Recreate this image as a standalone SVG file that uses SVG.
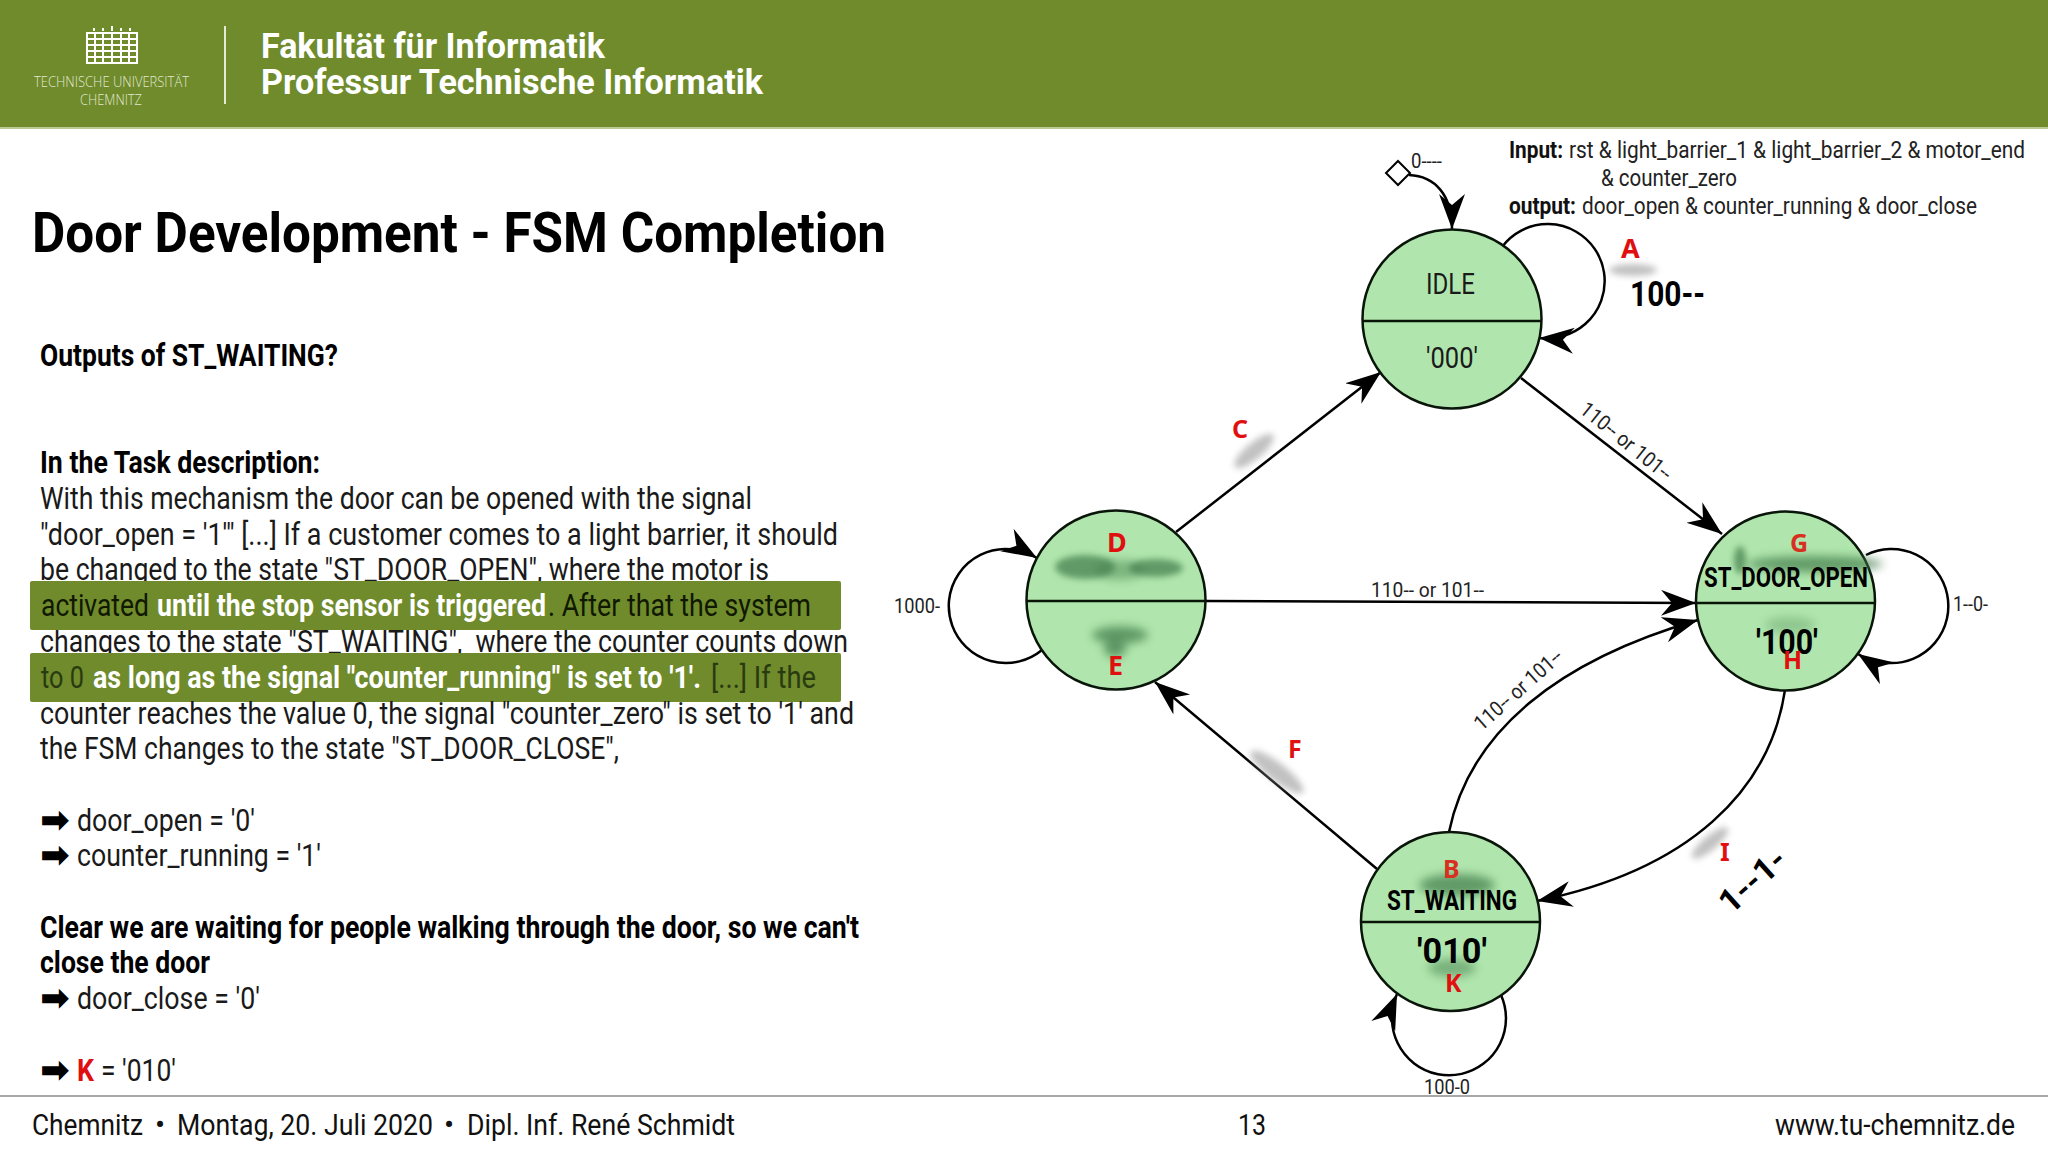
<svg xmlns="http://www.w3.org/2000/svg" width="2048" height="1152" viewBox="0 0 2048 1152">
<style>
text{font-family:Roboto,"Liberation Sans",sans-serif;fill:#1a1a1a;white-space:pre}
.b{font-weight:700;fill:#000}
.body{font-size:31px}
.hd{font-size:35px;font-weight:700;fill:#fff}
.lab{font-size:21px;fill:#222}
.top{font-size:24px;fill:#222}
.r{font-size:25px;font-weight:700;fill:#e01010;font-family:"Noto Sans",sans-serif}
.st{font-size:27px;font-weight:700;fill:#000}
.val{font-size:35px;font-weight:700;fill:#000}
.foot{font-size:30px;fill:#111}
.arw{font-size:33px;fill:#000;stroke:#000;stroke-width:1.5;font-family:"DejaVu Sans",sans-serif}
.state{fill:#b0e6ad;stroke:#0a150a;stroke-width:2.5}
.div{stroke:#0a150a;stroke-width:2.5}
.edge{fill:none;stroke:#000;stroke-width:2.5;marker-end:url(#ah)}
.smg{fill:#3f7a4a;opacity:.7}
.smk{fill:#a8a8a8;opacity:.7}
</style>
<defs>
<marker id="ah" markerUnits="userSpaceOnUse" markerWidth="40" markerHeight="28" refX="35" refY="13" orient="auto">
<path d="M35 13 L0 0 L11 13 L0 26 Z" fill="#000"/>
</marker>
<filter id="b3" x="-50%" y="-100%" width="200%" height="300%"><feGaussianBlur stdDeviation="3"/></filter>
<filter id="b5" x="-50%" y="-100%" width="200%" height="300%"><feGaussianBlur stdDeviation="5"/></filter>
</defs>
<rect width="2048" height="1152" fill="#fff"/>
<g id="header">
<rect width="2048" height="128" fill="#6f8b2c"/>
<rect y="127" width="2048" height="2" fill="#bccb96"/>
<g fill="none" stroke="#fff" stroke-width="2">
<rect x="87" y="33" width="50" height="30"/>
<path d="M87 39H137M87 45H137M87 51H137M87 57H137M95 33V63M103 33V63M112 33V63M121 33V63M129 33V63"/>
<path d="M94 31V28M103 31V28M112 31V26M121 31V28M130 31V28"/>
</g>
<rect x="224" y="26" width="2" height="78" fill="#e6ecd4"/>
<text x="34" y="87" font-size="15" textLength="155" lengthAdjust="spacingAndGlyphs" style="font-family:'Open Sans',sans-serif;font-weight:300;fill:#e2e8cf">TECHNISCHE UNIVERSITÄT</text>
<text x="80" y="105" font-size="15" textLength="62" lengthAdjust="spacingAndGlyphs" style="font-family:'Open Sans',sans-serif;font-weight:300;fill:#e2e8cf">CHEMNITZ</text>
<text class="hd" x="261" y="58" textLength="344" lengthAdjust="spacingAndGlyphs">Fakultät für Informatik</text>
<text class="hd" x="261" y="94" textLength="502" lengthAdjust="spacingAndGlyphs">Professur Technische Informatik</text>
</g>
<text class="b" x="32" y="252" font-size="55" textLength="854" lengthAdjust="spacingAndGlyphs">Door Development - FSM Completion</text>
<g id="body">
<text class="body b" x="40" y="366" textLength="298" lengthAdjust="spacingAndGlyphs">Outputs of ST_WAITING?</text>
<text class="body b" x="40" y="473" textLength="280" lengthAdjust="spacingAndGlyphs">In the Task description:</text>
<text class="body" x="40" y="509" textLength="712" lengthAdjust="spacingAndGlyphs">With this mechanism the door can be opened with the signal</text>
<text class="body" x="40" y="545" textLength="798" lengthAdjust="spacingAndGlyphs">"door_open = '1'" [...] If a customer comes to a light barrier, it should</text>
<text class="body" x="40" y="580" textLength="729" lengthAdjust="spacingAndGlyphs">be changed to the state "ST_DOOR_OPEN", where the motor is</text>
<text class="body" x="40" y="652" textLength="808" lengthAdjust="spacingAndGlyphs">changes to the state "ST_WAITING",  where the counter counts down</text>
<rect x="30" y="581" width="811" height="49" rx="2" fill="#6f8b2c"/>
<rect x="30" y="653" width="811" height="49" rx="2" fill="#6f8b2c"/>
<text class="body" x="41" y="616" textLength="108" lengthAdjust="spacingAndGlyphs" style="fill:#101800">activated</text>
<text class="body b" x="157" y="616" textLength="389" lengthAdjust="spacingAndGlyphs" style="fill:#fff">until the stop sensor is triggered</text>
<text class="body" x="548" y="616" textLength="263" lengthAdjust="spacingAndGlyphs" style="fill:#101800">. After that the system</text>
<text class="body" x="41" y="688" textLength="43" lengthAdjust="spacingAndGlyphs" style="fill:#2a3a10">to 0</text>
<text class="body b" x="93" y="688" textLength="608" lengthAdjust="spacingAndGlyphs" style="fill:#fff">as long as the signal "counter_running" is set to '1'.</text>
<text class="body" x="711" y="688" textLength="105" lengthAdjust="spacingAndGlyphs" style="fill:#2a3a10">[...] If the</text>
<text class="body" x="40" y="724" textLength="814" lengthAdjust="spacingAndGlyphs">counter reaches the value 0, the signal "counter_zero" is set to '1' and</text>
<text class="body" x="40" y="759" textLength="579" lengthAdjust="spacingAndGlyphs">the FSM changes to the state "ST_DOOR_CLOSE",</text>
<text class="arw" x="41" y="831">➡</text>
<text class="body" x="77" y="831" textLength="178" lengthAdjust="spacingAndGlyphs">door_open = '0'</text>
<text class="arw" x="41" y="866">➡</text>
<text class="body" x="77" y="866" textLength="244" lengthAdjust="spacingAndGlyphs">counter_running = '1'</text>
<text class="body b" x="40" y="938" textLength="819" lengthAdjust="spacingAndGlyphs">Clear we are waiting for people walking through the door, so we can't</text>
<text class="body b" x="40" y="973" textLength="170" lengthAdjust="spacingAndGlyphs">close the door</text>
<text class="arw" x="41" y="1009">➡</text>
<text class="body" x="77" y="1009" textLength="183" lengthAdjust="spacingAndGlyphs">door_close = '0'</text>
<text class="arw" x="41" y="1081">➡</text>
<text class="body" x="77" y="1081" style="font-weight:700;fill:#e01010" textLength="17" lengthAdjust="spacingAndGlyphs">K</text>
<text class="body" x="101" y="1081" textLength="75" lengthAdjust="spacingAndGlyphs">= '010'</text>
</g>
<g id="footer">
<rect y="1095" width="2048" height="2" fill="#a8a8a8"/>
<text class="foot" x="32" y="1135" textLength="111" lengthAdjust="spacingAndGlyphs">Chemnitz</text>
<text class="foot" x="155" y="1135">•</text>
<text class="foot" x="177" y="1135" textLength="256" lengthAdjust="spacingAndGlyphs">Montag, 20. Juli 2020</text>
<text class="foot" x="444" y="1135">•</text>
<text class="foot" x="467" y="1135" textLength="268" lengthAdjust="spacingAndGlyphs">Dipl. Inf. René Schmidt</text>
<text class="foot" x="1238" y="1135" textLength="28" lengthAdjust="spacingAndGlyphs">13</text>
<text class="foot" x="1775" y="1135" textLength="240" lengthAdjust="spacingAndGlyphs">www.tu-chemnitz.de</text>
</g>
<g id="legend">
<text class="top" x="1509" y="158" style="font-weight:700;fill:#111" textLength="54" lengthAdjust="spacingAndGlyphs">Input:</text>
<text class="top" x="1569" y="158" textLength="456" lengthAdjust="spacingAndGlyphs">rst &amp; light_barrier_1 &amp; light_barrier_2 &amp; motor_end</text>
<text class="top" x="1601" y="186" textLength="136" lengthAdjust="spacingAndGlyphs">&amp; counter_zero</text>
<text class="top" x="1509" y="214" style="font-weight:700;fill:#111" textLength="67" lengthAdjust="spacingAndGlyphs">output:</text>
<text class="top" x="1582" y="214" textLength="395" lengthAdjust="spacingAndGlyphs">door_open &amp; counter_running &amp; door_close</text>
</g>
<g id="connectors">
<path class="edge" d="M1409 175C1435 176 1452 195 1452 229"/>
<path class="edge" d="M1502 247A57 57 0 1 1 1563 336Q1552 339 1539 338"/>
<path class="edge" d="M1521 378L1722 534"/>
<path class="edge" d="M1176 532L1381 372"/>
<path class="edge" d="M1206 601L1696 603"/>
<path class="edge" d="M1042 650A57 57 0 1 1 1005 549Q1022 549 1037 558"/>
<path class="edge" d="M1866 555A57 57 0 1 1 1889 663Q1873 664 1858 654"/>
<path class="edge" d="M1449 832C1470 730 1560 660 1698 620"/>
<path class="edge" d="M1785 690C1770 790 1690 870 1537 901"/>
<path class="edge" d="M1377 869L1155 682"/>
<path class="edge" d="M1501 995A57 57 0 1 1 1392 1020Q1391 1008 1397 994"/>
<polygon points="1398,161 1410,173 1398,185 1386,173" fill="#fff" stroke="#000" stroke-width="2"/>
<text class="lab" x="1411" y="168" textLength="31" lengthAdjust="spacingAndGlyphs">0----</text>
<text class="lab" transform="translate(1622 447) rotate(39)" x="-56" y="0" textLength="111" lengthAdjust="spacingAndGlyphs">110-- or 101--</text>
<text class="lab" x="1371" y="597" textLength="113" lengthAdjust="spacingAndGlyphs">110-- or 101--</text>
<text class="lab" transform="translate(1523 695) rotate(-41.6)" x="-55" y="0" textLength="110" lengthAdjust="spacingAndGlyphs">110-- or 101--</text>
<text class="lab" x="894" y="613" textLength="46" lengthAdjust="spacingAndGlyphs">1000-</text>
<text class="lab" x="1953" y="611" textLength="35" lengthAdjust="spacingAndGlyphs">1--0-</text>
<text class="lab" x="1424" y="1094" textLength="46" lengthAdjust="spacingAndGlyphs">100-0</text>
<text class="b" x="1630" y="306" font-size="35" textLength="75" lengthAdjust="spacingAndGlyphs">100--</text>
<text class="b" transform="translate(1760 889) rotate(-42)" x="-39" y="0" font-size="33" textLength="78" lengthAdjust="spacingAndGlyphs">1--1-</text>
<ellipse class="smk" cx="1633" cy="270" rx="24" ry="6" filter="url(#b3)"/>
<ellipse class="smk" cx="1254" cy="451" rx="25" ry="8" transform="rotate(-40 1254 451)" filter="url(#b3)"/>
<ellipse class="smk" cx="1277" cy="772" rx="33" ry="9" transform="rotate(38 1277 772)" filter="url(#b3)"/>
<ellipse class="smk" cx="1710" cy="843" rx="23" ry="7" transform="rotate(-40 1710 843)" filter="url(#b3)"/>
<text class="r" x="1621" y="258" style="font-size:27px">A</text>
<text class="r" x="1232" y="438">C</text>
<text class="r" x="1288" y="758">F</text>
<text class="r" x="1720" y="861">I</text>
</g>
<g id="node-idle">
<circle class="state" cx="1452" cy="319" r="89.5"/>
<line class="div" x1="1362.5" y1="321" x2="1541.5" y2="321"/>
<text x="1426" y="294" font-size="30" textLength="49" lengthAdjust="spacingAndGlyphs">IDLE</text>
<text x="1426" y="368" font-size="30" textLength="52" lengthAdjust="spacingAndGlyphs">'000'</text>
</g>
<g id="node-d">
<circle class="state" cx="1116" cy="600" r="89.5"/>
<line class="div" x1="1026.5" y1="601" x2="1205.5" y2="601"/>
<ellipse class="smg" cx="1085" cy="567" rx="30" ry="12" filter="url(#b3)"/>
<ellipse class="smg" cx="1120" cy="570" rx="25" ry="10" filter="url(#b5)" style="opacity:.45"/>
<ellipse class="smg" cx="1156" cy="568" rx="27" ry="9" filter="url(#b3)"/>
<ellipse class="smg" cx="1120" cy="635" rx="28" ry="9" filter="url(#b5)"/>
<ellipse class="smg" cx="1115" cy="648" rx="11" ry="10" filter="url(#b5)"/>
<text class="r" x="1107" y="552" style="font-size:27px">D</text>
<text class="r" x="1108" y="675" style="font-size:27px">E</text>
</g>
<g id="node-door-open">
<circle class="state" cx="1785.5" cy="601" r="89.5"/>
<line class="div" x1="1696" y1="603" x2="1875" y2="603"/>
<ellipse class="smg" cx="1815" cy="564" rx="68" ry="8" filter="url(#b5)"/>
<ellipse class="smg" cx="1740" cy="560" rx="6" ry="14" filter="url(#b3)"/>
<ellipse class="smg" cx="1790" cy="625" rx="25" ry="8" filter="url(#b5)" style="opacity:.3"/>
<text class="st" x="1704" y="587" textLength="164" lengthAdjust="spacingAndGlyphs">ST_DOOR_OPEN</text>
<text class="val" x="1756" y="654" textLength="62" lengthAdjust="spacingAndGlyphs">'100'</text>
<text class="r" x="1790" y="552" style="fill:#d83020">G</text>
<text class="r" x="1783" y="669">H</text>
</g>
<g id="node-waiting">
<circle class="state" cx="1450.5" cy="921.5" r="89.5"/>
<line class="div" x1="1361" y1="922" x2="1540" y2="922"/>
<ellipse class="smg" cx="1457" cy="885" rx="38" ry="11" filter="url(#b5)"/>
<ellipse class="smg" cx="1452" cy="968" rx="24" ry="9" filter="url(#b5)" style="opacity:.5"/>
<text class="st" x="1387" y="910" textLength="130" lengthAdjust="spacingAndGlyphs">ST_WAITING</text>
<text class="val" x="1417" y="963" textLength="70" lengthAdjust="spacingAndGlyphs">'010'</text>
<text class="r" x="1443" y="878" style="fill:#d83020">B</text>
<text class="r" x="1445" y="992">K</text>
</g>
</svg>
